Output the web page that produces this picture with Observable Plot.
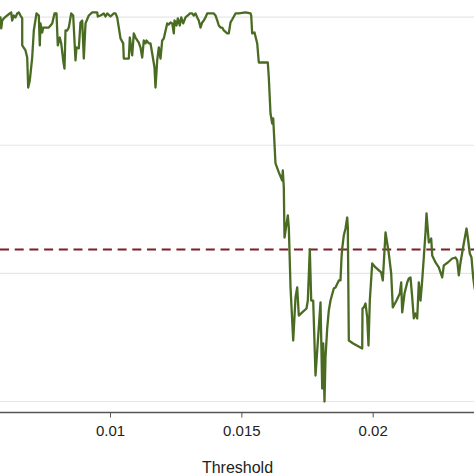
<!DOCTYPE html>
<html>
<head>
<meta charset="utf-8">
<script src="https://cdn.jsdelivr.net/npm/d3@7"></script>
<script src="https://cdn.jsdelivr.net/npm/@observablehq/plot@0.6"></script>
<style>
  html, body { margin: 0; padding: 0; background: #fff; }
  #chart { width: 474px; height: 474px; overflow: hidden; }
</style>
</head>
<body>
<div id="chart"></div>
<script>
// Threshold values (x 1000)
const thresholdK = [
5.813,5.840,5.878,5.939,6.068,6.167,6.220,6.258,6.319,6.384,
6.449,6.510,6.574,6.639,6.640,6.765,6.829,6.867,6.928,7.020,
7.081,7.183,7.271,7.309,7.336,7.400,7.438,7.652,7.781,7.869,
7.945,7.994,8.070,8.124,8.200,8.249,8.287,8.352,8.413,8.504,
8.580,8.668,8.706,8.794,8.858,8.923,8.984,9.049,9.174,9.304,
9.494,9.517,9.620,9.745,9.810,9.875,10.000,10.126,10.191,10.255,
10.316,10.381,10.484,10.506,10.697,10.735,10.826,10.887,10.952,11.077,
11.142,11.207,11.268,11.333,11.371,11.458,11.523,11.588,11.675,11.713,
11.778,11.839,11.904,11.968,12.029,12.158,12.219,12.284,12.349,12.410,
12.437,12.513,12.562,12.638,12.692,12.768,12.855,12.943,13.019,13.110,
13.171,13.236,13.301,13.361,13.426,13.491,13.552,13.617,13.681,13.933,
13.997,14.062,14.123,14.188,14.252,14.313,14.443,14.504,14.568,14.633,
14.759,14.884,15.139,15.330,15.356,15.394,15.482,15.585,15.646,15.988,
16.026,16.091,16.156,16.194,16.217,16.281,16.407,16.536,16.559,16.597,
16.624,16.750,16.788,16.853,16.955,17.043,17.107,17.168,17.298,17.461,
17.511,17.587,17.640,17.716,17.804,17.994,18.059,18.097,18.146,18.184,
18.249,18.310,18.375,18.500,18.565,18.691,18.755,18.794,18.820,18.881,
18.946,19.011,19.034,19.072,19.239,19.582,19.593,19.643,19.707,19.772,
19.821,19.871,19.962,20.088,20.305,20.366,20.469,20.594,20.685,20.746,
20.887,21.013,21.066,21.104,21.192,21.295,21.356,21.420,21.485,21.546,
21.611,21.675,21.736,21.801,21.865,21.926,21.991,22.029,22.117,22.208,
22.246,22.372,22.497,22.627,22.688,22.840,23.007,23.133,23.198,23.259,
23.323,23.449,23.552,23.601,23.677,23.742,23.806,23.856,23.970
];
// Metric value (y-axis labels are cropped in the reference; gridlines at 0,1,2,3)
const metric = [
2.998,2.912,2.974,2.990,3.013,3.029,3.037,2.974,3.013,2.998,
3.029,3.037,3.013,2.990,2.779,2.740,2.685,2.451,2.506,2.685,
2.896,3.029,3.013,2.779,2.951,2.880,2.919,2.919,2.951,3.029,
3.029,2.779,2.841,2.795,2.662,2.599,2.896,2.896,2.919,3.029,
3.013,2.662,2.763,2.756,2.959,2.974,2.677,2.951,3.013,3.037,
3.037,3.005,3.013,3.029,3.005,3.029,3.005,3.029,3.029,2.998,
2.919,2.834,2.795,2.677,2.677,2.841,2.701,2.873,2.841,2.802,
2.763,2.685,2.818,2.795,2.818,2.795,2.795,2.716,2.607,2.451,
2.662,2.763,2.677,2.818,2.834,2.951,2.943,2.959,2.951,2.873,
2.974,2.935,2.990,2.935,2.998,2.951,2.998,3.013,3.029,3.029,
3.013,3.029,2.998,2.974,2.919,2.959,2.974,2.998,3.029,3.029,
3.013,2.974,2.935,2.919,2.919,2.896,2.873,2.873,2.959,2.982,
3.029,3.029,3.037,3.029,3.013,2.873,2.880,2.795,2.646,2.646,
2.529,2.248,2.170,2.209,2.115,1.858,1.788,1.725,1.803,1.670,
1.280,1.452,1.358,0.890,0.476,0.812,0.890,0.671,0.695,0.726,
0.788,1.187,0.788,0.788,0.203,0.773,0.101,0.453,0.000,0.343,
0.570,0.710,0.788,0.882,0.890,0.945,0.945,1.124,1.194,1.296,
1.350,1.436,1.358,0.476,0.453,0.414,0.726,0.734,0.765,0.656,
0.437,0.788,1.077,1.046,1.007,0.945,1.319,1.155,0.999,0.734,
0.788,0.843,0.929,0.695,0.843,0.929,0.960,0.968,0.812,0.648,
0.687,0.648,0.929,0.788,0.945,1.124,1.319,1.468,1.241,1.272,
1.140,1.085,1.046,0.968,1.062,1.085,1.116,1.124,1.101,0.984,
1.085,1.233,1.350,1.280,1.155,1.124,0.968,0.890,0.788
];
const referenceLevel = 1.187;
const xTicks = [0.01, 0.015, 0.02];
const xTickLabels = ["0.01", "0.015", "0.02"];
const yGrid = [0, 1, 2, 3];
const xDomain = [0.005813, 0.023856];
const yDomain = [-0.086, 3.130];

const data = thresholdK.map((t, i) => ({threshold: t / 1000, value: metric[i]}));

const chart = Plot.plot({
  width: 474,
  height: 474,
  marginLeft: 0,
  marginRight: 0,
  marginTop: 0,
  marginBottom: 62,
  style: {fontFamily: "'Liberation Sans', Arial, sans-serif", background: "#fff", overflow: "hidden"},
  x: {domain: xDomain, label: null},
  y: {domain: yDomain, axis: null},
  marks: [
    Plot.ruleY(yGrid, {stroke: "#e6e6e6", strokeWidth: 1.2}),
    Plot.ruleY([referenceLevel], {stroke: "#7a1f2b", strokeWidth: 2, strokeDasharray: "9,5.7"}),
    Plot.line(data, {x: "threshold", y: "value", stroke: "#4a6b22", strokeWidth: 2.3, clip: true}),
    Plot.ruleY([yDomain[0]], {stroke: "#555", strokeWidth: 1.3}),
    Plot.axisX(xTicks, {
      tickFormat: (d, i) => xTickLabels[i],
      tickSize: 5.5,
      tickPadding: 7,
      fontSize: 15,
      stroke: "#555",
      color: "#222",
      label: null
    }),
    Plot.text(["Threshold"], {
      frameAnchor: "bottom",
      dy: 60,
      fontSize: 16,
      fill: "#222",
      lineAnchor: "bottom"
    })
  ]
});
document.getElementById("chart").appendChild(chart);
</script>
</body>
</html>
